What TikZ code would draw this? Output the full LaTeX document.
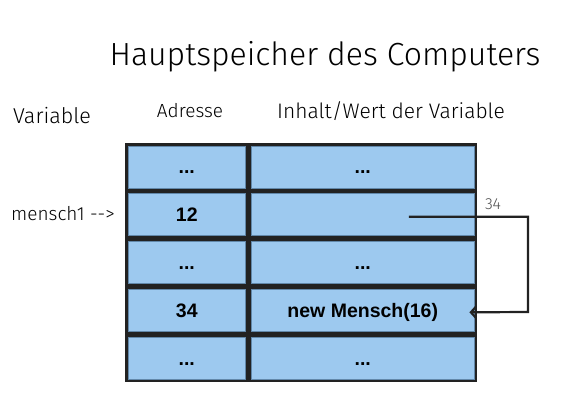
\documentclass[tikz,border=0pt]{standalone}
\usepackage{fontspec}
\setmainfont{Liberation Sans}
\newfontfamily\handfont{Fira Sans Light}
\usepackage{tikz}
\usetikzlibrary{arrows.meta, calc}
\definecolor{memblue}{RGB}{157,201,239}
\definecolor{memedge}{RGB}{98,136,170}
\definecolor{memdark}{RGB}{34,34,34}

\begin{document}
\begin{tikzpicture}[x=1pt, y=-1pt,
  cell/.style={fill=memblue, draw=memedge, line width=0.8pt, inner sep=0pt, minimum height=42pt,
    text height=14pt, text depth=0pt, font=\fontsize{19.5}{22}\selectfont\bfseries, text=black},
  addr/.style={cell, minimum width=117.5pt},
  wert/.style={cell, minimum width=222.5pt},
  hand/.style={font=\handfont\fontsize{19}{22}\selectfont, text=black, inner sep=0pt},
  ptr/.style={draw=memdark, line width=2.2pt, -{Straight Barb[length=5pt, width=11pt]}}]
\useasboundingbox (0,0) rectangle (572,415);
% Title and column heads
\node[hand, font=\handfont\fontsize{32}{38}\selectfont] (title) at (325,57) {Hauptspeicher des Computers};
\node[hand, font=\handfont\fontsize{21.5}{24}\selectfont] (variable) at (52,116) {Variable};
\node[hand] (adresse) at (190,111) {Adresse};
\node[hand, font=\handfont\fontsize{21}{24}\selectfont] (inhalt) at (391,111) {Inhalt/Wert der Variable};
% Memory table
\fill[memdark] (125,143) rectangle (477,382);
\node[addr] (addr1) at (186.75,166.9) {...};
\node[addr] (addr2) at (186.75,214.7) {12};
\node[addr] (addr3) at (186.75,262.5) {...};
\node[addr] (addr4) at (186.75,310.3) {34};
\node[addr] (addr5) at (186.75,358.1) {...};
\node[wert] (val1) at (362.75,166.9) {...};
\node[wert] (val2) at (362.75,214.7) {};
\node[wert] (val3) at (362.75,262.5) {...};
\node[wert] (val4) at (362.75,310.3) {new Mensch(16)};
\node[wert] (val5) at (362.75,358.1) {...};
% Variable name
\node[hand] (mensch) at (63,214) {mensch1 -->};
% Reference
\coordinate (refstart) at ($(val2.center)+(46,2)$);
\coordinate (refbend) at (528,312);
\coordinate (reftip) at ($(val4.east)+(-5,2)$);
\draw[ptr] (refstart) -| (refbend) -- (reftip);
\node[hand, font=\handfont\fontsize{16}{18}\selectfont, text=memdark!80] (refval) at (493,204) {34};
\end{tikzpicture}
\end{document}
